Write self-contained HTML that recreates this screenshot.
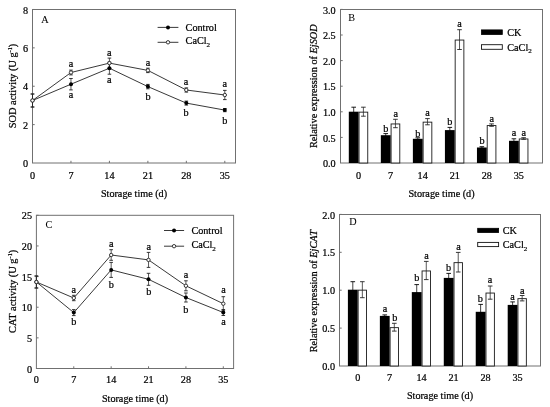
<!DOCTYPE html>
<html><head><meta charset="utf-8"><style>
html,body{margin:0;padding:0;background:#fff;}
svg{display:block;will-change:transform;}
text{font-family:"Liberation Serif", serif;fill:#000;stroke:#000;stroke-width:0.22px;}
</style></head><body>
<svg width="550" height="407" viewBox="0 0 550 407">
<rect width="550" height="407" fill="#fff"/>
<rect x="32.5" y="9.5" width="203.0" height="153.5" fill="none" stroke="#707070" stroke-width="1"/>
<text x="32.5" y="178.8" font-size="10.2" text-anchor="middle" >0</text>
<line x1="70.96000000000001" y1="163" x2="70.96000000000001" y2="160.8" stroke="#707070" stroke-width="1"/>
<text x="70.96000000000001" y="178.8" font-size="10.2" text-anchor="middle" >7</text>
<line x1="109.42" y1="163" x2="109.42" y2="160.8" stroke="#707070" stroke-width="1"/>
<text x="109.42" y="178.8" font-size="10.2" text-anchor="middle" >14</text>
<line x1="147.88" y1="163" x2="147.88" y2="160.8" stroke="#707070" stroke-width="1"/>
<text x="147.88" y="178.8" font-size="10.2" text-anchor="middle" >21</text>
<line x1="186.34" y1="163" x2="186.34" y2="160.8" stroke="#707070" stroke-width="1"/>
<text x="186.34" y="178.8" font-size="10.2" text-anchor="middle" >28</text>
<line x1="224.8" y1="163" x2="224.8" y2="160.8" stroke="#707070" stroke-width="1"/>
<text x="224.8" y="178.8" font-size="10.2" text-anchor="middle" >35</text>
<text x="28" y="167.1" font-size="10.2" text-anchor="end" >0</text>
<line x1="32.5" y1="124.62" x2="34.7" y2="124.62" stroke="#707070" stroke-width="1"/>
<text x="28" y="128.72" font-size="10.2" text-anchor="end" >2</text>
<line x1="32.5" y1="86.24" x2="34.7" y2="86.24" stroke="#707070" stroke-width="1"/>
<text x="28" y="90.33999999999999" font-size="10.2" text-anchor="end" >4</text>
<line x1="32.5" y1="47.859999999999985" x2="34.7" y2="47.859999999999985" stroke="#707070" stroke-width="1"/>
<text x="28" y="51.95999999999999" font-size="10.2" text-anchor="end" >6</text>
<line x1="32.5" y1="9.47999999999999" x2="34.7" y2="9.47999999999999" stroke="#707070" stroke-width="1"/>
<text x="28" y="13.57999999999999" font-size="10.2" text-anchor="end" >8</text>
<text x="134.0" y="197.3" font-size="10.2" text-anchor="middle" >Storage time (d)</text>
<text transform="translate(16.4,86) rotate(-90)" font-size="10.4" text-anchor="middle">SOD activity (U g<tspan font-size="6.2" dy="-4.6">-1</tspan><tspan dy="4.6">)</tspan></text>
<text x="41.3" y="22.6" font-size="10.2" text-anchor="start" style="stroke-width:0.05px">A</text>
<polyline points="32.5,100.5 71.0,84.2 109.4,68.2 147.9,86.6 186.3,103.1 224.8,110.1" fill="none" stroke="#222" stroke-width="0.9"/>
<polyline points="32.5,100.5 71.0,72.5 109.4,63.1 147.9,70.4 186.3,90.0 224.8,95.0" fill="none" stroke="#222" stroke-width="0.9"/>
<line x1="32.5" y1="94.0" x2="32.5" y2="107.0" stroke="#222" stroke-width="0.75"/>
<line x1="30.7" y1="94.0" x2="34.3" y2="94.0" stroke="#222" stroke-width="0.9"/>
<line x1="30.7" y1="107.0" x2="34.3" y2="107.0" stroke="#222" stroke-width="0.9"/>
<line x1="70.96000000000001" y1="78.5" x2="70.96000000000001" y2="89.9" stroke="#222" stroke-width="0.75"/>
<line x1="69.16000000000001" y1="78.5" x2="72.76" y2="78.5" stroke="#222" stroke-width="0.9"/>
<line x1="69.16000000000001" y1="89.9" x2="72.76" y2="89.9" stroke="#222" stroke-width="0.9"/>
<line x1="109.42" y1="62.2" x2="109.42" y2="74.2" stroke="#222" stroke-width="0.75"/>
<line x1="107.62" y1="62.2" x2="111.22" y2="62.2" stroke="#222" stroke-width="0.9"/>
<line x1="107.62" y1="74.2" x2="111.22" y2="74.2" stroke="#222" stroke-width="0.9"/>
<line x1="147.88" y1="84.39999999999999" x2="147.88" y2="88.8" stroke="#222" stroke-width="0.75"/>
<line x1="146.07999999999998" y1="84.39999999999999" x2="149.68" y2="84.39999999999999" stroke="#222" stroke-width="0.9"/>
<line x1="146.07999999999998" y1="88.8" x2="149.68" y2="88.8" stroke="#222" stroke-width="0.9"/>
<line x1="186.34" y1="101.1" x2="186.34" y2="105.1" stroke="#222" stroke-width="0.75"/>
<line x1="184.54" y1="101.1" x2="188.14000000000001" y2="101.1" stroke="#222" stroke-width="0.9"/>
<line x1="184.54" y1="105.1" x2="188.14000000000001" y2="105.1" stroke="#222" stroke-width="0.9"/>
<line x1="224.8" y1="108.5" x2="224.8" y2="111.69999999999999" stroke="#222" stroke-width="0.75"/>
<line x1="223.0" y1="108.5" x2="226.60000000000002" y2="108.5" stroke="#222" stroke-width="0.9"/>
<line x1="223.0" y1="111.69999999999999" x2="226.60000000000002" y2="111.69999999999999" stroke="#222" stroke-width="0.9"/>
<line x1="32.5" y1="94.0" x2="32.5" y2="107.0" stroke="#222" stroke-width="0.75"/>
<line x1="30.7" y1="94.0" x2="34.3" y2="94.0" stroke="#222" stroke-width="0.9"/>
<line x1="30.7" y1="107.0" x2="34.3" y2="107.0" stroke="#222" stroke-width="0.9"/>
<line x1="70.96000000000001" y1="70.1" x2="70.96000000000001" y2="74.9" stroke="#222" stroke-width="0.75"/>
<line x1="69.16000000000001" y1="70.1" x2="72.76" y2="70.1" stroke="#222" stroke-width="0.9"/>
<line x1="69.16000000000001" y1="74.9" x2="72.76" y2="74.9" stroke="#222" stroke-width="0.9"/>
<line x1="109.42" y1="58.1" x2="109.42" y2="68.1" stroke="#222" stroke-width="0.75"/>
<line x1="107.62" y1="58.1" x2="111.22" y2="58.1" stroke="#222" stroke-width="0.9"/>
<line x1="107.62" y1="68.1" x2="111.22" y2="68.1" stroke="#222" stroke-width="0.9"/>
<line x1="147.88" y1="68.2" x2="147.88" y2="72.60000000000001" stroke="#222" stroke-width="0.75"/>
<line x1="146.07999999999998" y1="68.2" x2="149.68" y2="68.2" stroke="#222" stroke-width="0.9"/>
<line x1="146.07999999999998" y1="72.60000000000001" x2="149.68" y2="72.60000000000001" stroke="#222" stroke-width="0.9"/>
<line x1="186.34" y1="87.9" x2="186.34" y2="92.1" stroke="#222" stroke-width="0.75"/>
<line x1="184.54" y1="87.9" x2="188.14000000000001" y2="87.9" stroke="#222" stroke-width="0.9"/>
<line x1="184.54" y1="92.1" x2="188.14000000000001" y2="92.1" stroke="#222" stroke-width="0.9"/>
<line x1="224.8" y1="90.4" x2="224.8" y2="99.6" stroke="#222" stroke-width="0.75"/>
<line x1="223.0" y1="90.4" x2="226.60000000000002" y2="90.4" stroke="#222" stroke-width="0.9"/>
<line x1="223.0" y1="99.6" x2="226.60000000000002" y2="99.6" stroke="#222" stroke-width="0.9"/>
<circle cx="32.5" cy="100.5" r="2.0" fill="#000"/>
<circle cx="71.0" cy="84.2" r="2.0" fill="#000"/>
<circle cx="109.4" cy="68.2" r="2.0" fill="#000"/>
<circle cx="147.9" cy="86.6" r="2.0" fill="#000"/>
<circle cx="186.3" cy="103.1" r="2.0" fill="#000"/>
<circle cx="224.8" cy="110.1" r="2.0" fill="#000"/>
<circle cx="32.5" cy="100.5" r="1.7" fill="#fff" stroke="#222" stroke-width="0.9"/>
<circle cx="71.0" cy="72.5" r="1.7" fill="#fff" stroke="#222" stroke-width="0.9"/>
<circle cx="109.4" cy="63.1" r="1.7" fill="#fff" stroke="#222" stroke-width="0.9"/>
<circle cx="147.9" cy="70.4" r="1.7" fill="#fff" stroke="#222" stroke-width="0.9"/>
<circle cx="186.3" cy="90.0" r="1.7" fill="#fff" stroke="#222" stroke-width="0.9"/>
<circle cx="224.8" cy="95.0" r="1.7" fill="#fff" stroke="#222" stroke-width="0.9"/>
<text x="71" y="66.5" font-size="10.2" text-anchor="middle">a</text>
<text x="71" y="97.8" font-size="10.2" text-anchor="middle">a</text>
<text x="109.3" y="56.4" font-size="10.2" text-anchor="middle">a</text>
<text x="109.3" y="82.7" font-size="10.2" text-anchor="middle">a</text>
<text x="148" y="66.2" font-size="10.2" text-anchor="middle">a</text>
<text x="148" y="99.7" font-size="10.2" text-anchor="middle">b</text>
<text x="186" y="85.3" font-size="10.2" text-anchor="middle">a</text>
<text x="186" y="116.4" font-size="10.2" text-anchor="middle">b</text>
<text x="224.7" y="86.7" font-size="10.2" text-anchor="middle">a</text>
<text x="224.7" y="124.4" font-size="10.2" text-anchor="middle">b</text>
<line x1="157.6" y1="27.4" x2="178.4" y2="27.4" stroke="#222" stroke-width="0.9"/>
<circle cx="168.0" cy="27.4" r="2.0" fill="#000"/>
<line x1="157.6" y1="42.3" x2="178.4" y2="42.3" stroke="#222" stroke-width="0.9"/>
<circle cx="168.0" cy="42.3" r="1.7" fill="#fff" stroke="#222" stroke-width="0.9"/>
<text x="185.6" y="30.9" font-size="10.2" text-anchor="start" >Control</text>
<text x="185.6" y="44.099999999999994" font-size="10.2" text-anchor="start" >CaCl<tspan font-size="7" dy="2.5">2</tspan></text>
<rect x="36.4" y="215.3" width="197.2" height="153.2" fill="none" stroke="#707070" stroke-width="1"/>
<text x="36.4" y="383.3" font-size="10.2" text-anchor="middle" >0</text>
<line x1="73.78" y1="368.5" x2="73.78" y2="366.3" stroke="#707070" stroke-width="1"/>
<text x="73.78" y="383.3" font-size="10.2" text-anchor="middle" >7</text>
<line x1="111.16" y1="368.5" x2="111.16" y2="366.3" stroke="#707070" stroke-width="1"/>
<text x="111.16" y="383.3" font-size="10.2" text-anchor="middle" >14</text>
<line x1="148.54000000000002" y1="368.5" x2="148.54000000000002" y2="366.3" stroke="#707070" stroke-width="1"/>
<text x="148.54000000000002" y="383.3" font-size="10.2" text-anchor="middle" >21</text>
<line x1="185.92000000000002" y1="368.5" x2="185.92000000000002" y2="366.3" stroke="#707070" stroke-width="1"/>
<text x="185.92000000000002" y="383.3" font-size="10.2" text-anchor="middle" >28</text>
<line x1="223.3" y1="368.5" x2="223.3" y2="366.3" stroke="#707070" stroke-width="1"/>
<text x="223.3" y="383.3" font-size="10.2" text-anchor="middle" >35</text>
<text x="32" y="372.6" font-size="10.2" text-anchor="end" >0</text>
<line x1="36.4" y1="337.86" x2="38.6" y2="337.86" stroke="#707070" stroke-width="1"/>
<text x="32" y="341.96000000000004" font-size="10.2" text-anchor="end" >5</text>
<line x1="36.4" y1="307.22" x2="38.6" y2="307.22" stroke="#707070" stroke-width="1"/>
<text x="32" y="311.32000000000005" font-size="10.2" text-anchor="end" >10</text>
<line x1="36.4" y1="276.58" x2="38.6" y2="276.58" stroke="#707070" stroke-width="1"/>
<text x="32" y="280.68" font-size="10.2" text-anchor="end" >15</text>
<line x1="36.4" y1="245.94" x2="38.6" y2="245.94" stroke="#707070" stroke-width="1"/>
<text x="32" y="250.04" font-size="10.2" text-anchor="end" >20</text>
<line x1="36.4" y1="215.3" x2="38.6" y2="215.3" stroke="#707070" stroke-width="1"/>
<text x="32" y="219.4" font-size="10.2" text-anchor="end" >25</text>
<text x="135.0" y="401.5" font-size="10.2" text-anchor="middle" >Storage time (d)</text>
<text transform="translate(16.4,291.4) rotate(-90)" font-size="10.4" text-anchor="middle">CAT activity (U g<tspan font-size="6.2" dy="-4.6">-1</tspan><tspan dy="4.6">)</tspan></text>
<text x="45.5" y="227.7" font-size="10.2" text-anchor="start" style="stroke-width:0.05px">C</text>
<polyline points="36.4,282.0 73.8,312.6 111.2,269.9 148.5,279.3 185.9,297.5 223.3,312.5" fill="none" stroke="#222" stroke-width="0.9"/>
<polyline points="36.4,282.0 73.8,298.0 111.2,255.0 148.5,259.9 185.9,285.8 223.3,303.7" fill="none" stroke="#222" stroke-width="0.9"/>
<line x1="36.4" y1="276" x2="36.4" y2="288" stroke="#222" stroke-width="0.75"/>
<line x1="34.6" y1="276" x2="38.199999999999996" y2="276" stroke="#222" stroke-width="0.9"/>
<line x1="34.6" y1="288" x2="38.199999999999996" y2="288" stroke="#222" stroke-width="0.9"/>
<line x1="73.78" y1="309.6" x2="73.78" y2="315.6" stroke="#222" stroke-width="0.75"/>
<line x1="71.98" y1="309.6" x2="75.58" y2="309.6" stroke="#222" stroke-width="0.9"/>
<line x1="71.98" y1="315.6" x2="75.58" y2="315.6" stroke="#222" stroke-width="0.9"/>
<line x1="111.16" y1="262.4" x2="111.16" y2="277.4" stroke="#222" stroke-width="0.75"/>
<line x1="109.36" y1="262.4" x2="112.96" y2="262.4" stroke="#222" stroke-width="0.9"/>
<line x1="109.36" y1="277.4" x2="112.96" y2="277.4" stroke="#222" stroke-width="0.9"/>
<line x1="148.54000000000002" y1="273.3" x2="148.54000000000002" y2="285.3" stroke="#222" stroke-width="0.75"/>
<line x1="146.74" y1="273.3" x2="150.34000000000003" y2="273.3" stroke="#222" stroke-width="0.9"/>
<line x1="146.74" y1="285.3" x2="150.34000000000003" y2="285.3" stroke="#222" stroke-width="0.9"/>
<line x1="185.92000000000002" y1="293.0" x2="185.92000000000002" y2="302.0" stroke="#222" stroke-width="0.75"/>
<line x1="184.12" y1="293.0" x2="187.72000000000003" y2="293.0" stroke="#222" stroke-width="0.9"/>
<line x1="184.12" y1="302.0" x2="187.72000000000003" y2="302.0" stroke="#222" stroke-width="0.9"/>
<line x1="223.3" y1="309.5" x2="223.3" y2="315.5" stroke="#222" stroke-width="0.75"/>
<line x1="221.5" y1="309.5" x2="225.10000000000002" y2="309.5" stroke="#222" stroke-width="0.9"/>
<line x1="221.5" y1="315.5" x2="225.10000000000002" y2="315.5" stroke="#222" stroke-width="0.9"/>
<line x1="36.4" y1="276" x2="36.4" y2="288" stroke="#222" stroke-width="0.75"/>
<line x1="34.6" y1="276" x2="38.199999999999996" y2="276" stroke="#222" stroke-width="0.9"/>
<line x1="34.6" y1="288" x2="38.199999999999996" y2="288" stroke="#222" stroke-width="0.9"/>
<line x1="73.78" y1="295.3" x2="73.78" y2="300.7" stroke="#222" stroke-width="0.75"/>
<line x1="71.98" y1="295.3" x2="75.58" y2="295.3" stroke="#222" stroke-width="0.9"/>
<line x1="71.98" y1="300.7" x2="75.58" y2="300.7" stroke="#222" stroke-width="0.9"/>
<line x1="111.16" y1="249.7" x2="111.16" y2="260.3" stroke="#222" stroke-width="0.75"/>
<line x1="109.36" y1="249.7" x2="112.96" y2="249.7" stroke="#222" stroke-width="0.9"/>
<line x1="109.36" y1="260.3" x2="112.96" y2="260.3" stroke="#222" stroke-width="0.9"/>
<line x1="148.54000000000002" y1="252.39999999999998" x2="148.54000000000002" y2="267.4" stroke="#222" stroke-width="0.75"/>
<line x1="146.74" y1="252.39999999999998" x2="150.34000000000003" y2="252.39999999999998" stroke="#222" stroke-width="0.9"/>
<line x1="146.74" y1="267.4" x2="150.34000000000003" y2="267.4" stroke="#222" stroke-width="0.9"/>
<line x1="185.92000000000002" y1="280.8" x2="185.92000000000002" y2="290.8" stroke="#222" stroke-width="0.75"/>
<line x1="184.12" y1="280.8" x2="187.72000000000003" y2="280.8" stroke="#222" stroke-width="0.9"/>
<line x1="184.12" y1="290.8" x2="187.72000000000003" y2="290.8" stroke="#222" stroke-width="0.9"/>
<line x1="223.3" y1="296.7" x2="223.3" y2="310.7" stroke="#222" stroke-width="0.75"/>
<line x1="221.5" y1="296.7" x2="225.10000000000002" y2="296.7" stroke="#222" stroke-width="0.9"/>
<line x1="221.5" y1="310.7" x2="225.10000000000002" y2="310.7" stroke="#222" stroke-width="0.9"/>
<circle cx="36.4" cy="282.0" r="2.0" fill="#000"/>
<circle cx="73.8" cy="312.6" r="2.0" fill="#000"/>
<circle cx="111.2" cy="269.9" r="2.0" fill="#000"/>
<circle cx="148.5" cy="279.3" r="2.0" fill="#000"/>
<circle cx="185.9" cy="297.5" r="2.0" fill="#000"/>
<circle cx="223.3" cy="312.5" r="2.0" fill="#000"/>
<circle cx="36.4" cy="282.0" r="1.7" fill="#fff" stroke="#222" stroke-width="0.9"/>
<circle cx="73.8" cy="298.0" r="1.7" fill="#fff" stroke="#222" stroke-width="0.9"/>
<circle cx="111.2" cy="255.0" r="1.7" fill="#fff" stroke="#222" stroke-width="0.9"/>
<circle cx="148.5" cy="259.9" r="1.7" fill="#fff" stroke="#222" stroke-width="0.9"/>
<circle cx="185.9" cy="285.8" r="1.7" fill="#fff" stroke="#222" stroke-width="0.9"/>
<circle cx="223.3" cy="303.7" r="1.7" fill="#fff" stroke="#222" stroke-width="0.9"/>
<text x="73.8" y="292.7" font-size="10.2" text-anchor="middle">a</text>
<text x="73.8" y="325.2" font-size="10.2" text-anchor="middle">b</text>
<text x="111.2" y="246.7" font-size="10.2" text-anchor="middle">a</text>
<text x="111.2" y="288.2" font-size="10.2" text-anchor="middle">b</text>
<text x="148.8" y="249.6" font-size="10.2" text-anchor="middle">a</text>
<text x="148.8" y="295.3" font-size="10.2" text-anchor="middle">b</text>
<text x="185.9" y="277.7" font-size="10.2" text-anchor="middle">a</text>
<text x="185.9" y="312.5" font-size="10.2" text-anchor="middle">b</text>
<text x="223.5" y="292.7" font-size="10.2" text-anchor="middle">a</text>
<text x="223.5" y="325.2" font-size="10.2" text-anchor="middle">a</text>
<line x1="164" y1="230.5" x2="184.1" y2="230.5" stroke="#222" stroke-width="0.9"/>
<circle cx="174.05" cy="230.5" r="2.0" fill="#000"/>
<line x1="164" y1="246.2" x2="184.1" y2="246.2" stroke="#222" stroke-width="0.9"/>
<circle cx="174.05" cy="246.2" r="1.7" fill="#fff" stroke="#222" stroke-width="0.9"/>
<text x="191.4" y="234.0" font-size="10.2" text-anchor="start" >Control</text>
<text x="191.4" y="248.0" font-size="10.2" text-anchor="start" >CaCl<tspan font-size="7" dy="2.5">2</tspan></text>
<rect x="340.5" y="9.5" width="202.0" height="153.5" fill="none" stroke="#707070" stroke-width="1"/>
<text x="335.7" y="167.1" font-size="10.2" text-anchor="end" >0.0</text>
<line x1="340.5" y1="137.4" x2="342.7" y2="137.4" stroke="#707070" stroke-width="1"/>
<text x="335.7" y="141.5" font-size="10.2" text-anchor="end" >0.5</text>
<line x1="340.5" y1="111.8" x2="342.7" y2="111.8" stroke="#707070" stroke-width="1"/>
<text x="335.7" y="115.89999999999999" font-size="10.2" text-anchor="end" >1.0</text>
<line x1="340.5" y1="86.19999999999999" x2="342.7" y2="86.19999999999999" stroke="#707070" stroke-width="1"/>
<text x="335.7" y="90.29999999999998" font-size="10.2" text-anchor="end" >1.5</text>
<line x1="340.5" y1="60.599999999999994" x2="342.7" y2="60.599999999999994" stroke="#707070" stroke-width="1"/>
<text x="335.7" y="64.69999999999999" font-size="10.2" text-anchor="end" >2.0</text>
<line x1="340.5" y1="35.0" x2="342.7" y2="35.0" stroke="#707070" stroke-width="1"/>
<text x="335.7" y="39.1" font-size="10.2" text-anchor="end" >2.5</text>
<line x1="340.5" y1="9.399999999999977" x2="342.7" y2="9.399999999999977" stroke="#707070" stroke-width="1"/>
<text x="335.7" y="13.499999999999977" font-size="10.2" text-anchor="end" >3.0</text>
<text x="358.6" y="178.8" font-size="10.2" text-anchor="middle" >0</text>
<text x="390.64000000000004" y="178.8" font-size="10.2" text-anchor="middle" >7</text>
<text x="422.68" y="178.8" font-size="10.2" text-anchor="middle" >14</text>
<text x="454.72" y="178.8" font-size="10.2" text-anchor="middle" >21</text>
<text x="486.76" y="178.8" font-size="10.2" text-anchor="middle" >28</text>
<text x="518.8" y="178.8" font-size="10.2" text-anchor="middle" >35</text>
<text x="441.5" y="197" font-size="10.2" text-anchor="middle" >Storage time (d)</text>
<text transform="translate(316.6,86.2) rotate(-90)" font-size="10.3" text-anchor="middle">Relative expression of <tspan font-style="italic">EjSOD</tspan></text>
<text x="348.3" y="21.2" font-size="10.2" text-anchor="start" style="stroke-width:0.05px">B</text>
<rect x="348.80" y="111.70" width="9.80" height="51.30" fill="#000"/>
<rect x="359.05" y="112.15" width="8.70" height="50.85" fill="#fff" stroke="#1a1a1a" stroke-width="0.9"/>
<line x1="353.70000000000005" y1="107.2" x2="353.70000000000005" y2="116.2" stroke="#000" stroke-width="0.75"/>
<line x1="351.40000000000003" y1="107.2" x2="356.00000000000006" y2="107.2" stroke="#000" stroke-width="0.9"/>
<line x1="351.40000000000003" y1="116.2" x2="356.00000000000006" y2="116.2" stroke="#000" stroke-width="0.9"/>
<line x1="363.40000000000003" y1="107.2" x2="363.40000000000003" y2="116.2" stroke="#222" stroke-width="0.75"/>
<line x1="361.1" y1="107.2" x2="365.70000000000005" y2="107.2" stroke="#222" stroke-width="0.9"/>
<line x1="361.1" y1="116.2" x2="365.70000000000005" y2="116.2" stroke="#222" stroke-width="0.9"/>
<rect x="380.84" y="135.20" width="9.80" height="27.80" fill="#000"/>
<rect x="391.09" y="123.95" width="8.70" height="39.05" fill="#fff" stroke="#1a1a1a" stroke-width="0.9"/>
<line x1="385.74000000000007" y1="133.6" x2="385.74000000000007" y2="136.79999999999998" stroke="#000" stroke-width="0.75"/>
<line x1="383.44000000000005" y1="133.6" x2="388.0400000000001" y2="133.6" stroke="#000" stroke-width="0.9"/>
<line x1="383.44000000000005" y1="136.79999999999998" x2="388.0400000000001" y2="136.79999999999998" stroke="#000" stroke-width="0.9"/>
<line x1="395.44000000000005" y1="119.3" x2="395.44000000000005" y2="127.7" stroke="#222" stroke-width="0.75"/>
<line x1="393.14000000000004" y1="119.3" x2="397.74000000000007" y2="119.3" stroke="#222" stroke-width="0.9"/>
<line x1="393.14000000000004" y1="127.7" x2="397.74000000000007" y2="127.7" stroke="#222" stroke-width="0.9"/>
<rect x="412.88" y="138.80" width="9.80" height="24.20" fill="#000"/>
<rect x="423.13" y="122.15" width="8.70" height="40.85" fill="#fff" stroke="#1a1a1a" stroke-width="0.9"/>
<line x1="417.78000000000003" y1="137.8" x2="417.78000000000003" y2="139.8" stroke="#000" stroke-width="0.75"/>
<line x1="415.48" y1="137.8" x2="420.08000000000004" y2="137.8" stroke="#000" stroke-width="0.9"/>
<line x1="415.48" y1="139.8" x2="420.08000000000004" y2="139.8" stroke="#000" stroke-width="0.9"/>
<line x1="427.48" y1="118.60000000000001" x2="427.48" y2="124.8" stroke="#222" stroke-width="0.75"/>
<line x1="425.18" y1="118.60000000000001" x2="429.78000000000003" y2="118.60000000000001" stroke="#222" stroke-width="0.9"/>
<line x1="425.18" y1="124.8" x2="429.78000000000003" y2="124.8" stroke="#222" stroke-width="0.9"/>
<rect x="444.92" y="130.10" width="9.80" height="32.90" fill="#000"/>
<rect x="455.17" y="40.05" width="8.70" height="122.95" fill="#fff" stroke="#1a1a1a" stroke-width="0.9"/>
<line x1="449.82000000000005" y1="127.39999999999999" x2="449.82000000000005" y2="132.79999999999998" stroke="#000" stroke-width="0.75"/>
<line x1="447.52000000000004" y1="127.39999999999999" x2="452.12000000000006" y2="127.39999999999999" stroke="#000" stroke-width="0.9"/>
<line x1="447.52000000000004" y1="132.79999999999998" x2="452.12000000000006" y2="132.79999999999998" stroke="#000" stroke-width="0.9"/>
<line x1="459.52000000000004" y1="29.700000000000003" x2="459.52000000000004" y2="49.5" stroke="#222" stroke-width="0.75"/>
<line x1="457.22" y1="29.700000000000003" x2="461.82000000000005" y2="29.700000000000003" stroke="#222" stroke-width="0.9"/>
<line x1="457.22" y1="49.5" x2="461.82000000000005" y2="49.5" stroke="#222" stroke-width="0.9"/>
<rect x="476.96" y="147.50" width="9.80" height="15.50" fill="#000"/>
<rect x="487.21" y="125.55" width="8.70" height="37.45" fill="#fff" stroke="#1a1a1a" stroke-width="0.9"/>
<line x1="481.86" y1="146.7" x2="481.86" y2="148.3" stroke="#000" stroke-width="0.75"/>
<line x1="479.56" y1="146.7" x2="484.16" y2="146.7" stroke="#000" stroke-width="0.9"/>
<line x1="479.56" y1="148.3" x2="484.16" y2="148.3" stroke="#000" stroke-width="0.9"/>
<line x1="491.56" y1="123.89999999999999" x2="491.56" y2="126.3" stroke="#222" stroke-width="0.75"/>
<line x1="489.26" y1="123.89999999999999" x2="493.86" y2="123.89999999999999" stroke="#222" stroke-width="0.9"/>
<line x1="489.26" y1="126.3" x2="493.86" y2="126.3" stroke="#222" stroke-width="0.9"/>
<rect x="509.00" y="140.80" width="9.80" height="22.20" fill="#000"/>
<rect x="519.25" y="138.95" width="8.70" height="24.05" fill="#fff" stroke="#1a1a1a" stroke-width="0.9"/>
<line x1="513.9" y1="138.8" x2="513.9" y2="142.8" stroke="#000" stroke-width="0.75"/>
<line x1="511.59999999999997" y1="138.8" x2="516.1999999999999" y2="138.8" stroke="#000" stroke-width="0.9"/>
<line x1="511.59999999999997" y1="142.8" x2="516.1999999999999" y2="142.8" stroke="#000" stroke-width="0.9"/>
<line x1="523.5999999999999" y1="137.7" x2="523.5999999999999" y2="139.3" stroke="#222" stroke-width="0.75"/>
<line x1="521.3" y1="137.7" x2="525.8999999999999" y2="137.7" stroke="#222" stroke-width="0.9"/>
<line x1="521.3" y1="139.3" x2="525.8999999999999" y2="139.3" stroke="#222" stroke-width="0.9"/>
<text x="385.9" y="131.7" font-size="10.2" text-anchor="middle">b</text>
<text x="395.8" y="117" font-size="10.2" text-anchor="middle">a</text>
<text x="417.8" y="137.1" font-size="10.2" text-anchor="middle">b</text>
<text x="427.6" y="116.2" font-size="10.2" text-anchor="middle">a</text>
<text x="449.9" y="125" font-size="10.2" text-anchor="middle">b</text>
<text x="459.6" y="26.6" font-size="10.2" text-anchor="middle">a</text>
<text x="482" y="144.1" font-size="10.2" text-anchor="middle">b</text>
<text x="491.8" y="122.3" font-size="10.2" text-anchor="middle">a</text>
<text x="514" y="136.3" font-size="10.2" text-anchor="middle">a</text>
<text x="523.8" y="136.3" font-size="10.2" text-anchor="middle">a</text>
<rect x="481.5" y="29.9" width="20.80000000000001" height="4.6" fill="#000" stroke="#000" stroke-width="0.8"/>
<rect x="481.5" y="44.7" width="20.80000000000001" height="4.6" fill="#fff" stroke="#111" stroke-width="0.9"/>
<text x="507.3" y="35.699999999999996" font-size="10.2" text-anchor="start" >CK</text>
<text x="507.3" y="50.5" font-size="10.2" text-anchor="start" >CaCl<tspan font-size="7" dy="2.5">2</tspan></text>
<rect x="339.5" y="214.5" width="201.0" height="151.5" fill="none" stroke="#707070" stroke-width="1"/>
<text x="335" y="370.1" font-size="10.2" text-anchor="end" >0.0</text>
<line x1="339.5" y1="328.1" x2="341.7" y2="328.1" stroke="#707070" stroke-width="1"/>
<text x="335" y="332.20000000000005" font-size="10.2" text-anchor="end" >0.5</text>
<line x1="339.5" y1="290.2" x2="341.7" y2="290.2" stroke="#707070" stroke-width="1"/>
<text x="335" y="294.3" font-size="10.2" text-anchor="end" >1.0</text>
<line x1="339.5" y1="252.3" x2="341.7" y2="252.3" stroke="#707070" stroke-width="1"/>
<text x="335" y="256.40000000000003" font-size="10.2" text-anchor="end" >1.5</text>
<line x1="339.5" y1="214.4" x2="341.7" y2="214.4" stroke="#707070" stroke-width="1"/>
<text x="335" y="218.5" font-size="10.2" text-anchor="end" >2.0</text>
<text x="357.7" y="381.3" font-size="10.2" text-anchor="middle" >0</text>
<text x="389.65999999999997" y="381.3" font-size="10.2" text-anchor="middle" >7</text>
<text x="421.62" y="381.3" font-size="10.2" text-anchor="middle" >14</text>
<text x="453.58" y="381.3" font-size="10.2" text-anchor="middle" >21</text>
<text x="485.53999999999996" y="381.3" font-size="10.2" text-anchor="middle" >28</text>
<text x="517.5" y="381.3" font-size="10.2" text-anchor="middle" >35</text>
<text x="440.0" y="399" font-size="10.2" text-anchor="middle" >Storage time (d)</text>
<text transform="translate(316.5,291.2) rotate(-90)" font-size="10.3" text-anchor="middle">Relative expression of <tspan font-style="italic">EjCAT</tspan></text>
<text x="349.2" y="225.4" font-size="10.2" text-anchor="start" style="stroke-width:0.05px">D</text>
<rect x="347.90" y="289.70" width="9.80" height="76.30" fill="#000"/>
<rect x="358.15" y="290.15" width="8.40" height="75.85" fill="#fff" stroke="#1a1a1a" stroke-width="0.9"/>
<line x1="352.8" y1="281.7" x2="352.8" y2="297.7" stroke="#000" stroke-width="0.75"/>
<line x1="350.5" y1="281.7" x2="355.1" y2="281.7" stroke="#000" stroke-width="0.9"/>
<line x1="350.5" y1="297.7" x2="355.1" y2="297.7" stroke="#000" stroke-width="0.9"/>
<line x1="362.34999999999997" y1="281.7" x2="362.34999999999997" y2="297.7" stroke="#222" stroke-width="0.75"/>
<line x1="360.04999999999995" y1="281.7" x2="364.65" y2="281.7" stroke="#222" stroke-width="0.9"/>
<line x1="360.04999999999995" y1="297.7" x2="364.65" y2="297.7" stroke="#222" stroke-width="0.9"/>
<rect x="379.86" y="315.90" width="9.80" height="50.10" fill="#000"/>
<rect x="390.11" y="327.65" width="8.40" height="38.35" fill="#fff" stroke="#1a1a1a" stroke-width="0.9"/>
<line x1="384.76" y1="314.9" x2="384.76" y2="316.9" stroke="#000" stroke-width="0.75"/>
<line x1="382.46" y1="314.9" x2="387.06" y2="314.9" stroke="#000" stroke-width="0.9"/>
<line x1="382.46" y1="316.9" x2="387.06" y2="316.9" stroke="#000" stroke-width="0.9"/>
<line x1="394.30999999999995" y1="323.3" x2="394.30999999999995" y2="331.09999999999997" stroke="#222" stroke-width="0.75"/>
<line x1="392.00999999999993" y1="323.3" x2="396.60999999999996" y2="323.3" stroke="#222" stroke-width="0.9"/>
<line x1="392.00999999999993" y1="331.09999999999997" x2="396.60999999999996" y2="331.09999999999997" stroke="#222" stroke-width="0.9"/>
<rect x="411.82" y="292.10" width="9.80" height="73.90" fill="#000"/>
<rect x="422.07" y="270.95" width="8.40" height="95.05" fill="#fff" stroke="#1a1a1a" stroke-width="0.9"/>
<line x1="416.72" y1="284.6" x2="416.72" y2="299.6" stroke="#000" stroke-width="0.75"/>
<line x1="414.42" y1="284.6" x2="419.02000000000004" y2="284.6" stroke="#000" stroke-width="0.9"/>
<line x1="414.42" y1="299.6" x2="419.02000000000004" y2="299.6" stroke="#000" stroke-width="0.9"/>
<line x1="426.27" y1="261.4" x2="426.27" y2="279.6" stroke="#222" stroke-width="0.75"/>
<line x1="423.96999999999997" y1="261.4" x2="428.57" y2="261.4" stroke="#222" stroke-width="0.9"/>
<line x1="423.96999999999997" y1="279.6" x2="428.57" y2="279.6" stroke="#222" stroke-width="0.9"/>
<rect x="443.78" y="277.90" width="9.80" height="88.10" fill="#000"/>
<rect x="454.03" y="262.65" width="8.40" height="103.35" fill="#fff" stroke="#1a1a1a" stroke-width="0.9"/>
<line x1="448.68" y1="273.4" x2="448.68" y2="282.4" stroke="#000" stroke-width="0.75"/>
<line x1="446.38" y1="273.4" x2="450.98" y2="273.4" stroke="#000" stroke-width="0.9"/>
<line x1="446.38" y1="282.4" x2="450.98" y2="282.4" stroke="#000" stroke-width="0.9"/>
<line x1="458.22999999999996" y1="252.39999999999998" x2="458.22999999999996" y2="272.0" stroke="#222" stroke-width="0.75"/>
<line x1="455.92999999999995" y1="252.39999999999998" x2="460.53" y2="252.39999999999998" stroke="#222" stroke-width="0.9"/>
<line x1="455.92999999999995" y1="272.0" x2="460.53" y2="272.0" stroke="#222" stroke-width="0.9"/>
<rect x="475.74" y="311.80" width="9.80" height="54.20" fill="#000"/>
<rect x="485.99" y="293.05" width="8.40" height="72.95" fill="#fff" stroke="#1a1a1a" stroke-width="0.9"/>
<line x1="480.64" y1="304.40000000000003" x2="480.64" y2="319.2" stroke="#000" stroke-width="0.75"/>
<line x1="478.34" y1="304.40000000000003" x2="482.94" y2="304.40000000000003" stroke="#000" stroke-width="0.9"/>
<line x1="478.34" y1="319.2" x2="482.94" y2="319.2" stroke="#000" stroke-width="0.9"/>
<line x1="490.18999999999994" y1="286.0" x2="490.18999999999994" y2="299.20000000000005" stroke="#222" stroke-width="0.75"/>
<line x1="487.88999999999993" y1="286.0" x2="492.48999999999995" y2="286.0" stroke="#222" stroke-width="0.9"/>
<line x1="487.88999999999993" y1="299.20000000000005" x2="492.48999999999995" y2="299.20000000000005" stroke="#222" stroke-width="0.9"/>
<rect x="507.70" y="304.90" width="9.80" height="61.10" fill="#000"/>
<rect x="517.95" y="298.65" width="8.40" height="67.35" fill="#fff" stroke="#1a1a1a" stroke-width="0.9"/>
<line x1="512.6" y1="301.9" x2="512.6" y2="307.9" stroke="#000" stroke-width="0.75"/>
<line x1="510.3" y1="301.9" x2="514.9" y2="301.9" stroke="#000" stroke-width="0.9"/>
<line x1="510.3" y1="307.9" x2="514.9" y2="307.9" stroke="#000" stroke-width="0.9"/>
<line x1="522.15" y1="295.5" x2="522.15" y2="300.9" stroke="#222" stroke-width="0.75"/>
<line x1="519.85" y1="295.5" x2="524.4499999999999" y2="295.5" stroke="#222" stroke-width="0.9"/>
<line x1="519.85" y1="300.9" x2="524.4499999999999" y2="300.9" stroke="#222" stroke-width="0.9"/>
<text x="385" y="311.6" font-size="10.2" text-anchor="middle">a</text>
<text x="394.8" y="321.4" font-size="10.2" text-anchor="middle">b</text>
<text x="416.8" y="281" font-size="10.2" text-anchor="middle">b</text>
<text x="426.6" y="259" font-size="10.2" text-anchor="middle">a</text>
<text x="448.6" y="271" font-size="10.2" text-anchor="middle">b</text>
<text x="458.5" y="249.8" font-size="10.2" text-anchor="middle">a</text>
<text x="480.3" y="301.5" font-size="10.2" text-anchor="middle">b</text>
<text x="490.1" y="282.6" font-size="10.2" text-anchor="middle">a</text>
<text x="512.5" y="300.1" font-size="10.2" text-anchor="middle">a</text>
<text x="522.3" y="293.9" font-size="10.2" text-anchor="middle">a</text>
<rect x="477.7" y="228.3" width="20.900000000000034" height="4.2" fill="#000" stroke="#000" stroke-width="0.8"/>
<rect x="477.7" y="242.4" width="20.900000000000034" height="4.2" fill="#fff" stroke="#111" stroke-width="0.9"/>
<text x="502.8" y="233.9" font-size="10.2" text-anchor="start" >CK</text>
<text x="502.8" y="248.0" font-size="10.2" text-anchor="start" >CaCl<tspan font-size="7" dy="2.5">2</tspan></text>
</svg>
</body></html>
